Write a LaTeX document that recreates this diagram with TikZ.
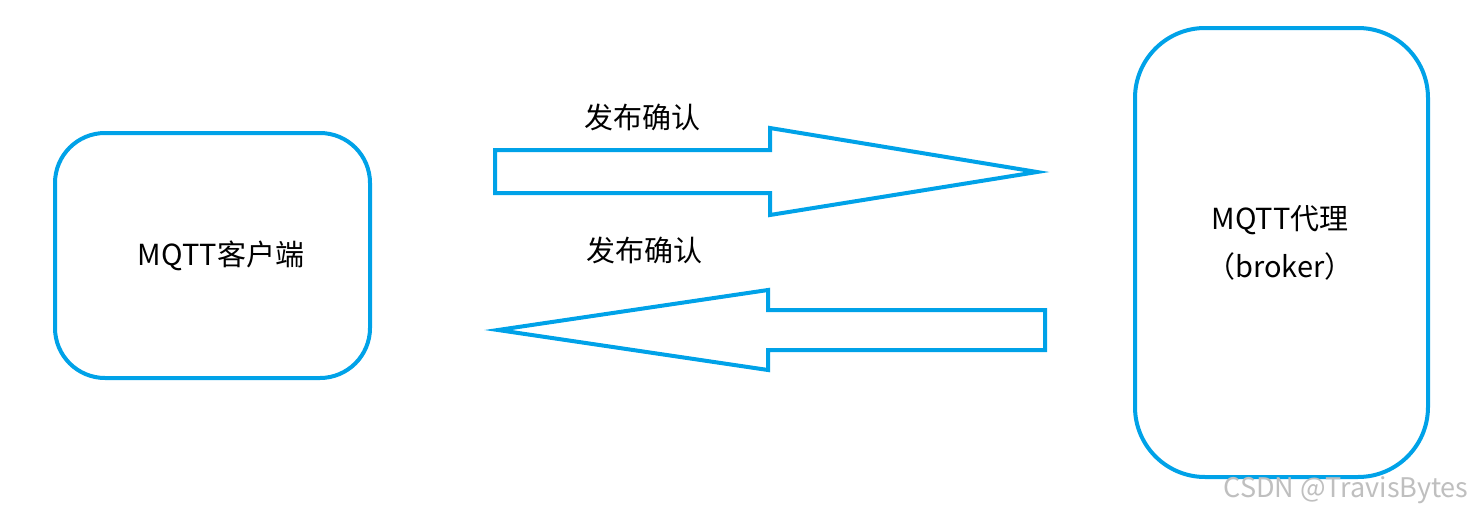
\documentclass[tikz,border=0pt]{standalone}
\usepackage{fontspec}
\setmainfont{Noto Sans CJK SC}
\definecolor{cb}{RGB}{0,162,232}
\begin{document}
\begin{tikzpicture}[x=1pt,y=-1pt,
  box/.style={draw=cb,line width=4pt},
  arr/.style={draw=cb,line width=4pt,line join=miter},
  lbl/.style={font=\fontsize{29}{34}\selectfont,inner sep=0}]
\useasboundingbox[fill=white] (0,0) rectangle (1476,514);
\draw[box,rounded corners=50] (55,133) rectangle (370,378);
\draw[box,rounded corners=70] (1135,28) rectangle (1428,477);
\node[lbl] (cl) at (221,256) {MQTT客户端};
\node[lbl] (br1) at (1280,220) {MQTT代理};
\node[lbl] (br2) at (1280,266) {（broker）};
\draw[arr] (495,150) -- (770,150) -- (770,128) -- (1037,172) -- (770,215) -- (770,193) -- (495,193) -- cycle;
\draw[arr] (1045,310) -- (768,310) -- (768,290) -- (498,330) -- (768,370) -- (768,350) -- (1045,350) -- cycle;
\node[lbl] (l1) at (642,117) {发布确认};
\node[lbl] (l2) at (644,250) {发布确认};
\node[font=\fontsize{27}{30}\selectfont,text=black!25,inner sep=0] (wm) at (1346,490) {CSDN @TravisBytes};
\end{tikzpicture}
\end{document}
